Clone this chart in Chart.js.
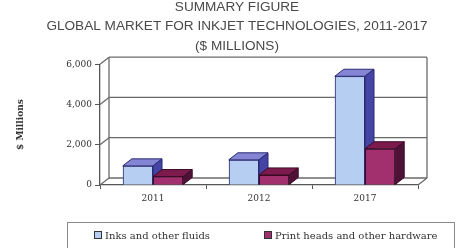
<!DOCTYPE html>
<html>
<head>
<meta charset="utf-8">
<script src="https://cdn.jsdelivr.net/npm/chart.js"></script>
<style>
  html, body { margin: 0; padding: 0; background: #fff; overflow: hidden; }
  #wrap { position: absolute; left: 0; top: -3px; width: 474px; height: 251px; }
  #legend { position: absolute; left: 67px; top: 222px; width: 388px; height: 40px;
    border: 1px solid #8a8a8a; box-sizing: border-box; font: 10px "DejaVu Serif", serif; color: #333; }
  #legend .item { position: absolute; top: 7px; white-space: nowrap; }
  #legend .sw { display: inline-block; width: 6px; height: 6px; border: 1px solid #333; margin-right: 3px; vertical-align: 0px; }
</style>
</head>
<body>
<div id="wrap"><canvas id="c"></canvas></div>
<div id="legend"></div>
<script>
// data ($ millions)
var years = ['2011', '2012', '2017'];
var inks = [950, 1250, 5400];
var printHeads = [420, 500, 1800];
var seriesNames = ['Inks and other fluids', 'Print heads and other hardware'];
var titleLines = ['SUMMARY FIGURE', 'GLOBAL MARKET FOR INKJET TECHNOLOGIES, 2011-2017', '($ MILLIONS)'];

var DX = 9, DY = -7;
var faces = [
  { front: '#b7cef3', top: '#8585d6', side: '#4444a4', edge: '#2a2a70' },
  { front: '#a2306e', top: '#7d1a4e', side: '#4e1238', edge: '#3a0c26' }
];

function line(ctx, x1, y1, x2, y2){ ctx.beginPath(); ctx.moveTo(x1, y1); ctx.lineTo(x2, y2); ctx.stroke(); }

// back wall + grid lines pushed back in depth
var wallPlugin = {
  id: 'wall',
  beforeDatasetsDraw: function(chart){
    var ctx = chart.ctx, a = chart.chartArea, y = chart.scales.y;
    ctx.save();
    ctx.strokeStyle = '#6a6a6a'; ctx.lineWidth = 1.3;
    y.ticks.forEach(function(t){
      var py = y.getPixelForValue(t.value);
      line(ctx, a.left, py, a.left + DX, py + DY);
      line(ctx, a.left + DX, py + DY, a.right + DX, py + DY);
    });
    line(ctx, a.left + DX, a.top + DY, a.left + DX, a.bottom + DY);
    line(ctx, a.right + DX, a.top + DY, a.right + DX, a.bottom + DY);
    line(ctx, a.right, a.bottom, a.right + DX, a.bottom + DY);
    ctx.restore();
  }
};

// redraw bars series by series with their top and side faces,
// so the second bar of a group sits over the first one's side face
var bar3dPlugin = {
  id: 'bar3d',
  afterDatasetsDraw: function(chart){
    var ctx = chart.ctx;
    ctx.save();
    chart.data.datasets.forEach(function(ds, i){
      var f = faces[i];
      chart.getDatasetMeta(i).data.forEach(function(bar){
        bar.draw(ctx);
        var p = bar.getProps(['x', 'y', 'base', 'width'], true);
        var l = p.x - p.width / 2, r = p.x + p.width / 2;
        ctx.strokeStyle = f.edge; ctx.lineWidth = 1; ctx.lineJoin = 'round';
        ctx.fillStyle = f.top;
        ctx.beginPath();
        ctx.moveTo(l, p.y); ctx.lineTo(l + DX, p.y + DY); ctx.lineTo(r + DX, p.y + DY); ctx.lineTo(r, p.y);
        ctx.closePath(); ctx.fill(); ctx.stroke();
        ctx.fillStyle = f.side;
        ctx.beginPath();
        ctx.moveTo(r, p.y); ctx.lineTo(r + DX, p.y + DY); ctx.lineTo(r + DX, p.base + DY); ctx.lineTo(r, p.base);
        ctx.closePath(); ctx.fill(); ctx.stroke();
      });
    });
    ctx.restore();
  }
};

var serif = 'DejaVu Serif';

new Chart(document.getElementById('c'), {
  type: 'bar',
  data: {
    labels: years,
    datasets: [
      { label: seriesNames[0], data: inks, backgroundColor: faces[0].front, borderColor: faces[0].edge, borderWidth: 1 },
      { label: seriesNames[1], data: printHeads, backgroundColor: faces[1].front, borderColor: faces[1].edge, borderWidth: 1 }
    ]
  },
  options: {
    responsive: true,
    maintainAspectRatio: false,
    animation: false,
    datasets: { bar: { barPercentage: 1, categoryPercentage: 0.57 } },
    layout: { padding: { left: 0, right: 0, top: 0, bottom: 41 } },
    plugins: {
      legend: { display: false },
      tooltip: { enabled: false },
      title: {
        display: true, text: titleLines, color: '#4a4a4a',
        font: { family: 'Liberation Sans', size: 13.6, weight: 'normal', lineHeight: 1.45 },
        padding: { top: 0, bottom: 8 }
      }
    },
    scales: {
      x: {
        grid: { drawOnChartArea: false, tickLength: 4, color: '#555', offset: true },
        border: { color: '#555', width: 1.3 },
        ticks: { color: '#333', font: { family: serif, size: 9 }, padding: 4 },
        afterFit: function(s){ s.height = 22; }
      },
      y: {
        min: 0, max: 6000,
        grid: { drawOnChartArea: false, tickLength: 5, color: '#555' },
        border: { color: '#555', width: 1.3 },
        ticks: { stepSize: 2000, color: '#333', font: { family: serif, size: 9 }, padding: 3,
          callback: function(v){ return v.toLocaleString('en-US'); } },
        title: { display: true, text: '$ Millions', color: '#333', font: { family: serif, size: 9, weight: 'bold' }, padding: { top: 15, bottom: 0 } },
        afterFit: function(s){ s.width = 100; }
      },
      // empty right-hand space so the title stays centred on the page
      yRight: {
        position: 'right', min: 0, max: 6000,
        grid: { display: false }, border: { display: false }, ticks: { display: false },
        afterFit: function(s){ s.width = 56; }
      }
    }
  },
  plugins: [wallPlugin, bar3dPlugin]
});

// legend in a bordered box like the original
var lg = document.getElementById('legend');
var lefts = [26, 196];
seriesNames.forEach(function(n, i){
  var d = document.createElement('div');
  d.className = 'item';
  d.style.left = lefts[i] + 'px';
  var sw = document.createElement('span');
  sw.className = 'sw'; sw.style.background = faces[i].front;
  d.appendChild(sw);
  d.appendChild(document.createTextNode(n));
  lg.appendChild(d);
});
</script>
</body>
</html>
